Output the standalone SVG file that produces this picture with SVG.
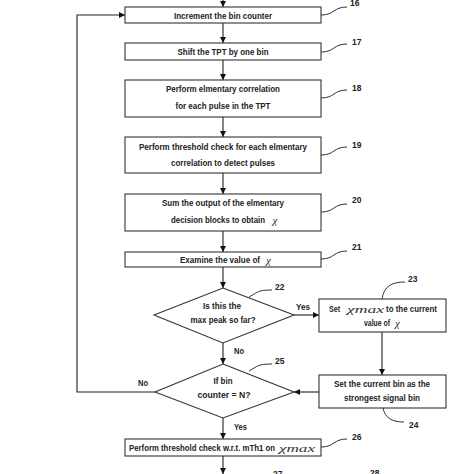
<svg xmlns="http://www.w3.org/2000/svg" width="474" height="474" viewBox="0 0 474 474">
<defs>
<marker id="ah" viewBox="0 0 10 10" refX="10" refY="5" markerWidth="7" markerHeight="6" markerUnits="userSpaceOnUse" orient="auto">
<path d="M0,0 L10,5 L0,10 z" fill="#111"/>
</marker>
<style>
.box{fill:#fff;stroke:#333;stroke-width:1.1}
.t{font-family:"Liberation Sans",Arial,sans-serif;font-weight:bold;font-size:9px;fill:#222;text-anchor:middle}
.tl{font-family:"Liberation Sans",Arial,sans-serif;font-weight:bold;font-size:9px;fill:#222}
.n{font-family:"Liberation Sans",Arial,sans-serif;font-weight:bold;font-size:8.5px;fill:#222}
.m{font-family:"Liberation Serif","Times New Roman",serif;font-style:italic;font-size:11px;fill:#333}
.c{fill:none;stroke:#222;stroke-width:1.1}
.ld{fill:none;stroke:#333;stroke-width:1}
</style>
</defs>
<rect width="474" height="474" fill="#fff"/>
<g id="connectors">
<path class="c" d="M223,0 V7" marker-end="url(#ah)"/>
<path class="c" d="M223,23 V43" marker-end="url(#ah)"/>
<path class="c" d="M223,60 V80" marker-end="url(#ah)"/>
<path class="c" d="M223,117 V137" marker-end="url(#ah)"/>
<path class="c" d="M223,173 V194" marker-end="url(#ah)"/>
<path class="c" d="M223,231 V252" marker-end="url(#ah)"/>
<path class="c" d="M223,267 V288" marker-end="url(#ah)"/>
<path class="c" d="M294,315 H319" marker-end="url(#ah)"/>
<path class="c" d="M382,332 V375" marker-end="url(#ah)"/>
<path class="c" d="M319,392 H294" marker-end="url(#ah)"/>
<path class="c" d="M223,343 V364" marker-end="url(#ah)"/>
<path class="c" d="M155,392 H77 V15 H125" marker-end="url(#ah)"/>
<path class="c" d="M223,418 V439" marker-end="url(#ah)"/>
<path class="c" d="M223,456 V474" marker-end="url(#ah)"/>
<text class="tl" x="296" y="310" textLength="14" lengthAdjust="spacingAndGlyphs">Yes</text>
<text class="tl" x="234" y="354" textLength="10" lengthAdjust="spacingAndGlyphs">No</text>
<text class="tl" x="138" y="386" textLength="10" lengthAdjust="spacingAndGlyphs">No</text>
<text class="tl" x="234" y="430" textLength="13" lengthAdjust="spacingAndGlyphs">Yes</text>
</g>
<g id="n16">
<rect class="box" x="125" y="7" width="196" height="16"/>
<text class="t" x="223" y="18.5" textLength="98" lengthAdjust="spacingAndGlyphs">Increment the bin counter</text>
<path class="ld" d="M321,15 C335,15 333,7 347,7"/>
<text class="n" x="350" y="6">16</text>
</g>
<g id="n17">
<rect class="box" x="125" y="43" width="196" height="17"/>
<text class="t" x="223" y="55" textLength="91" lengthAdjust="spacingAndGlyphs">Shift the TPT by one bin</text>
<path class="ld" d="M321,52 C335,52 333,44 347,44"/>
<text class="n" x="352" y="45">17</text>
</g>
<g id="n18">
<rect class="box" x="125" y="80" width="196" height="37"/>
<text class="t" x="223" y="92" textLength="114" lengthAdjust="spacingAndGlyphs">Perform elmentary correlation</text>
<text class="t" x="223" y="109" textLength="95" lengthAdjust="spacingAndGlyphs">for each pulse in the TPT</text>
<path class="ld" d="M321,98 C335,98 333,90 347,90"/>
<text class="n" x="352" y="91">18</text>
</g>
<g id="n19">
<rect class="box" x="125" y="137" width="196" height="36"/>
<text class="t" x="223" y="150" textLength="168" lengthAdjust="spacingAndGlyphs">Perform threshold check for each elmentary</text>
<text class="t" x="223" y="166" textLength="104" lengthAdjust="spacingAndGlyphs">correlation to detect pulses</text>
<path class="ld" d="M321,155 C335,155 333,147 347,147"/>
<text class="n" x="352" y="148">19</text>
</g>
<g id="n20">
<rect class="box" x="125" y="194" width="196" height="37"/>
<text class="t" x="223" y="206" textLength="122" lengthAdjust="spacingAndGlyphs">Sum the output of the elmentary</text>
<text class="tl" x="171" y="223" textLength="94" lengthAdjust="spacingAndGlyphs">decision blocks to obtain</text>
<text class="m" x="272.5" y="224">χ</text>
<path class="ld" d="M321,212 C335,212 333,204 347,204"/>
<text class="n" x="352" y="203">20</text>
</g>
<g id="n21">
<rect class="box" x="125" y="252" width="196" height="15"/>
<text class="tl" x="180" y="263" textLength="80" lengthAdjust="spacingAndGlyphs">Examine the value of</text>
<text class="m" x="266" y="264">χ</text>
<path class="ld" d="M321,259 C335,259 333,251 347,251"/>
<text class="n" x="352" y="250">21</text>
</g>
<g id="n22">
<polygon class="box" points="223,288 294,315 223,343 154,315"/>
<text class="t" x="222" y="309" textLength="38" lengthAdjust="spacingAndGlyphs">Is this the</text>
<text class="t" x="223" y="323" textLength="65" lengthAdjust="spacingAndGlyphs">max peak so far?</text>
<path class="ld" d="M249,297 C258,292 258,290 272,290"/>
<text class="n" x="275" y="290">22</text>
</g>
<g id="n23">
<rect class="box" x="319" y="299" width="127" height="33"/>
<text class="tl" x="329" y="312" textLength="11" lengthAdjust="spacingAndGlyphs">Set</text>
<text class="m" x="347" y="313" textLength="37" lengthAdjust="spacingAndGlyphs">χmax</text>
<text class="tl" x="386" y="312" textLength="51" lengthAdjust="spacingAndGlyphs">to the current</text>
<text class="tl" x="364" y="326" textLength="26" lengthAdjust="spacingAndGlyphs">value of</text>
<text class="m" x="395" y="327">χ</text>
<path class="ld" d="M382,299 C384,286 392,282 405,282"/>
<text class="n" x="408" y="282">23</text>
</g>
<g id="n24">
<rect class="box" x="319" y="375" width="127" height="33"/>
<text class="t" x="382" y="387" textLength="96" lengthAdjust="spacingAndGlyphs">Set the current bin as the</text>
<text class="t" x="382" y="401" textLength="76" lengthAdjust="spacingAndGlyphs">strongest signal bin</text>
<path class="ld" d="M383,408 C385,418 392,422 404,422"/>
<text class="n" x="409" y="428">24</text>
</g>
<g id="n25">
<polygon class="box" points="223,364 294,392 223,418 155,392"/>
<text class="t" x="223" y="384" textLength="19" lengthAdjust="spacingAndGlyphs">If bin</text>
<text class="t" x="224" y="398" textLength="53" lengthAdjust="spacingAndGlyphs">counter = N?</text>
<path class="ld" d="M249,371 C258,366 258,364 272,364"/>
<text class="n" x="275" y="364">25</text>
</g>
<g id="n26">
<rect class="box" x="125" y="439" width="196" height="17"/>
<text class="tl" x="129" y="451" textLength="146" lengthAdjust="spacingAndGlyphs">Perform threshold check w.r.t. mTh1 on</text>
<text class="m" x="279" y="452" textLength="36" lengthAdjust="spacingAndGlyphs">χmax</text>
<path class="ld" d="M321,447 C335,447 333,439 347,439"/>
<text class="n" x="352" y="440">26</text>
</g>
<g id="labels-bottom">
<text class="n" x="273" y="477">27</text>
<text class="n" x="370" y="476">28</text>
</g>
</svg>
